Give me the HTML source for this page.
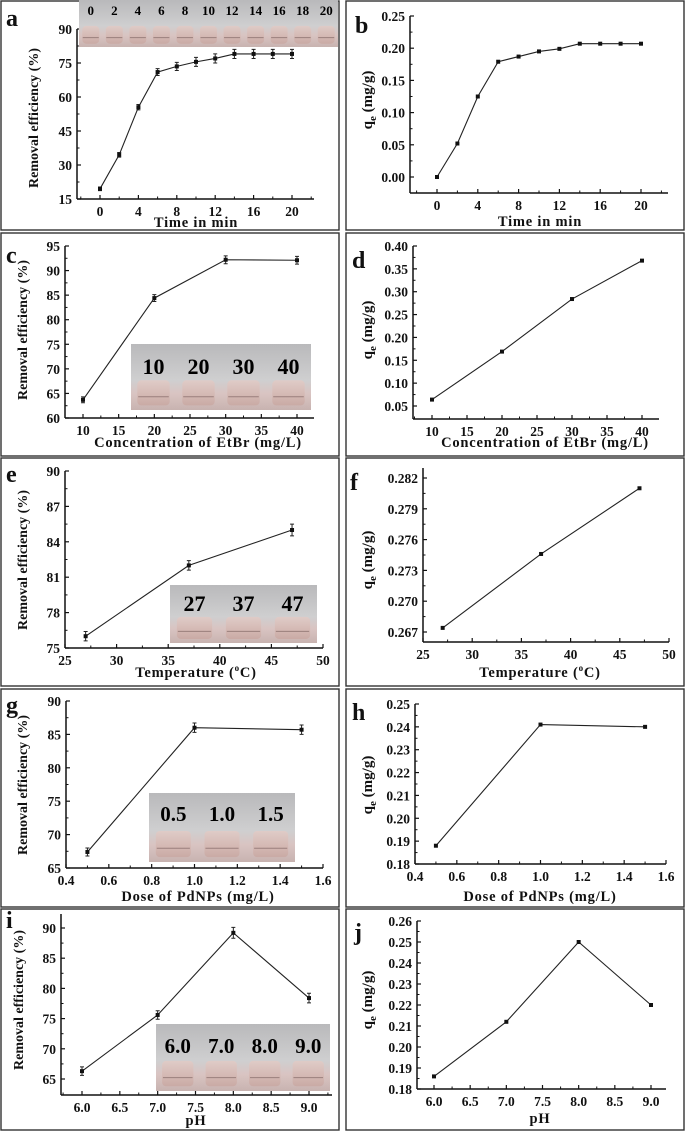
<!DOCTYPE html>
<html><head><meta charset="utf-8">
<style>
html,body{margin:0;padding:0;background:#fff;}
body{width:685px;height:1132px;overflow:hidden;}
svg text{font-family:"Liberation Serif",serif;font-weight:bold;fill:#111;}
</style></head>
<body>
<svg id="fig" width="685" height="1132" viewBox="0 0 685 1132" xmlns="http://www.w3.org/2000/svg">
<defs>
<linearGradient id="photo" x1="0" y1="0" x2="0" y2="1">
<stop offset="0" stop-color="#b9b9bb"/><stop offset="0.55" stop-color="#cfcfd0"/><stop offset="0.75" stop-color="#d9c4c2"/><stop offset="1" stop-color="#c8b3b0"/>
</linearGradient>
<linearGradient id="liq" x1="0" y1="0" x2="0" y2="1">
<stop offset="0" stop-color="#e2cbc6"/><stop offset="1" stop-color="#c9a8a2"/>
</linearGradient>
</defs>
<g id="panels"></g>
</svg>
<script>
// ---- data ----
const timeX = [0,2,4,6,8,10,12,14,16,18,20];
const remA = [19.5,34.5,55.5,71,73.5,75.5,77,79,79,79,79];
const errA = [0.8,1,1.2,1.5,1.8,2,2,2,2,2,2];
const qeB = [0,0.052,0.125,0.179,0.187,0.195,0.199,0.207,0.207,0.207,0.207];
const concX = [10,20,30,40];
const remC = [63.7,84.4,92.2,92.1];
const errC = [0.6,0.7,0.8,0.8];
const qeD = [0.064,0.169,0.284,0.368];
const tempX = [27,37,47];
const remE = [76,82,85];
const errE = [0.4,0.4,0.5];
const qeF = [0.2674,0.2746,0.2810];
const doseX = [0.5,1.0,1.5];
const remG = [67.4,86,85.7];
const errG = [0.6,0.7,0.7];
const qeH = [0.188,0.241,0.240];
const phX = [6,7,8,9];
const remI = [66.3,75.6,89.2,78.4];
const errI = [0.7,0.7,0.9,0.8];
const qeJ = [0.186,0.212,0.250,0.220];
const ticksA = [0,4,8,12,16,20], ticksAy=[15,30,45,60,75,90];
const ticksBy = [0,0.05,0.1,0.15,0.2,0.25];
const ticksC = [10,15,20,25,30,35,40], ticksCy=[60,65,70,75,80,85,90,95];
const ticksDy = [0.05,0.1,0.15,0.2,0.25,0.3,0.35,0.4];
const ticksE = [25,30,35,40,45,50], ticksEy=[75,78,81,84,87,90];
const ticksFy = [0.267,0.270,0.273,0.276,0.279,0.282];
const ticksG = [0.4,0.6,0.8,1.0,1.2,1.4,1.6], ticksGy=[65,70,75,80,85,90];
const ticksHy = [0.18,0.19,0.20,0.21,0.22,0.23,0.24,0.25];
const ticksI = [6,6.5,7,7.5,8,8.5,9], ticksIy=[65,70,75,80,85,90];
const ticksJy = [0.18,0.19,0.20,0.21,0.22,0.23,0.24,0.25,0.26];

const NS="http://www.w3.org/2000/svg";
const root=document.getElementById('panels');
function mk(tag,attrs,parent){const e=document.createElementNS(NS,tag);for(const k in attrs)e.setAttribute(k,attrs[k]);(parent||root).appendChild(e);return e;}

const frames=[[1,1,338,229],[346,1,338,229],[1,233,338,223],[346,233,338,223],[1,458,338,228],[346,458,338,228],[1,689,338,218],[346,689,338,218],[1,909,338,221],[346,909,338,221]];
const frameNames=['a','b','c','d','e','f','g','h','i','j'];
frames.forEach((f,i)=>{
 const r=mk('rect',{x:f[0],y:f[1],width:f[2],height:f[3],fill:'none',stroke:'#333','stroke-width':1.4});
 
 
});

function photo(id,x,y,w,h,labels,fs,labelY){
 const g=mk('g',{});
 
 
 mk('rect',{x:x,y:y,width:w,height:h,fill:'url(#photo)'},g);
 const n=labels.length, cw=w/n;
 labels.forEach((l,k)=>{
  const cx=x+cw*(k+0.5);
  mk('rect',{x:cx-cw*0.36,y:y+h*0.55,width:cw*0.72,height:h*0.38,rx:4,fill:'url(#liq)',opacity:0.85},g);
  mk('line',{x1:cx-cw*0.34,x2:cx+cw*0.34,y1:y+h*0.8,y2:y+h*0.8,stroke:'#9a7f7c','stroke-width':1},g);
  const t=mk('text',{x:cx,y:labelY,'text-anchor':'middle','font-size':fs,style:'fill:#000'},g);
  t.textContent=l;
  
  
 });
}

function fmt(v,d){return v.toFixed(d);}
function panel(p){
 const g=mk('g',{});
 
 
 const sx=v=>p.px0+(v-p.vx0)/(p.vx1-p.vx0)*(p.px1-p.px0);
 const sy=v=>p.py0+(v-p.vy0)/(p.vy1-p.vy0)*(p.py1-p.py0);
 if(p.photo) photo(...p.photo);
 const ax=mk('line',{x1:p.ax0,x2:p.ax1,y1:p.ay,y2:p.ay,stroke:'#111','stroke-width':1.5},g);
 
 
 const ay=mk('line',{x1:p.ax0,x2:p.ax0,y1:p.ay,y2:p.atop,stroke:'#111','stroke-width':1.5},g);
 
 
 const xt=p.xt, step=xt[1]-xt[0];
 for(let k=0;k<xt.length;k++){
  const X=sx(xt[k]);
  mk('line',{x1:X,x2:X,y1:p.ay,y2:p.ay-4,stroke:'#111','stroke-width':1.2},g);
  const t=mk('text',{x:X,y:p.ay+17,'text-anchor':'middle','font-size':13.5},g);
  t.textContent=fmt(xt[k],p.xd);
  
  
 }
 for(let v=xt[0]-step/2;v<=xt[xt.length-1]+step/2+1e-9;v+=step){
  const X=sx(v); if(X<p.ax0+1||X>p.ax1) continue;
  mk('line',{x1:X,x2:X,y1:p.ay,y2:p.ay-2.5,stroke:'#111','stroke-width':1},g);
 }
 const yt=p.yt, ys=yt[1]-yt[0];
 for(let k=0;k<yt.length;k++){
  const Y=sy(yt[k]);
  mk('line',{x1:p.ax0,x2:p.ax0+4,y1:Y,y2:Y,stroke:'#111','stroke-width':1.2},g);
  const t=mk('text',{x:p.ax0-5,y:Y+5,'text-anchor':'end','font-size':13.5},g);
  t.textContent=fmt(yt[k],p.yd);
  
  
 }
 for(let v=yt[0]+ys/2;v<yt[yt.length-1];v+=ys){
  const Y=sy(v);
  mk('line',{x1:p.ax0,x2:p.ax0+2.5,y1:Y,y2:Y,stroke:'#111','stroke-width':1},g);
 }
 const pts=p.x.map((v,k)=>sx(v)+','+sy(p.y[k])).join(' ');
 const pl=mk('polyline',{points:pts,fill:'none',stroke:'#222','stroke-width':1.1},g);
 
 
 p.x.forEach((v,k)=>{
  const X=sx(v),Y=sy(p.y[k]);
  if(p.err){
   const y1=sy(p.y[k]+p.err[k]),y2=sy(p.y[k]-p.err[k]);
   const eb=mk('path',{d:`M${X},${y1}V${y2}M${X-2},${y1}H${X+2}M${X-2},${y2}H${X+2}`,stroke:'#222','stroke-width':1,fill:'none'},g);
   
   
  }
  const m=mk('rect',{x:X-2,y:Y-2,width:4,height:4,fill:'#111'},g);
  
  
 });
 const lt=mk('text',{x:p.lx,y:p.ly,'font-size':24},g);
 lt.textContent=p.id;
 
 
 const xt2=mk('text',{x:p.xtx,y:p.xty,'text-anchor':'middle','font-size':14.5,'letter-spacing':0.8},g);
 xt2.innerHTML=p.xtitle;
 
 
 const yt2=mk('text',{x:0,y:0,'text-anchor':'middle','font-size':p.qe?15:14,transform:`translate(${p.ytx},${p.yty}) rotate(-90)`},g);
 yt2.innerHTML=p.qe?'q<tspan font-size="11" dy="4">e</tspan><tspan dy="-4"> (mg/g)</tspan>':'Removal efficiency (%)';
 
 
}
const tempT='Temperature (<tspan font-size="9" dy="-6">o</tspan><tspan dy="6">C)</tspan>';
panel({id:'a',x:timeX,y:remA,err:errA,xt:ticksA,yt:ticksAy,xd:0,yd:0,vx0:0,vx1:20,px0:100,px1:292,vy0:15,vy1:90,py0:199,py1:29,ax0:77,ax1:314,ay:199,atop:29,
 photo:['a',79,0,259,47,timeX.map(String),13,15],lx:6,ly:26,xtitle:'Time in min',xtx:196,xty:227,ytx:38,yty:118});
panel({id:'b',qe:1,x:timeX,y:qeB,xt:ticksA,yt:ticksBy,xd:0,yd:2,vx0:0,vx1:20,px0:437,px1:641,vy0:0,vy1:0.25,py0:177,py1:16,ax0:410,ax1:668,ay:193,atop:16,
 lx:355,ly:33,xtitle:'Time in min',xtx:540,xty:226,ytx:372,yty:100});
panel({id:'c',x:concX,y:remC,err:errC,xt:ticksC,yt:ticksCy,xd:0,yd:0,vx0:10,vx1:40,px0:83,px1:297,vy0:60,vy1:95,py0:418,py1:246,ax0:65,ax1:314,ay:418,atop:246,
 photo:['c',131,344,180,66,concX.map(String),22,374],lx:6,ly:263,xtitle:'Concentration of EtBr (mg/L)',xtx:198,xty:447,ytx:27,yty:330});
panel({id:'d',qe:1,x:concX,y:qeD,xt:ticksC,yt:ticksDy,xd:0,yd:2,vx0:10,vx1:40,px0:432,px1:642,vy0:0.05,vy1:0.4,py0:406,py1:246,ax0:413,ax1:659,ay:419,atop:246,
 lx:352,ly:268,xtitle:'Concentration of EtBr (mg/L)',xtx:545,xty:447,ytx:372,yty:330});
panel({id:'e',x:tempX,y:remE,err:errE,xt:ticksE,yt:ticksEy,xd:0,yd:0,vx0:25,vx1:50,px0:65,px1:323,vy0:75,vy1:90,py0:648,py1:471,ax0:65,ax1:323,ay:648,atop:471,
 photo:['e',170,585,147,58,tempX.map(String),22,611],lx:6,ly:482,xtitle:tempT,xtx:196,xty:677,ytx:27,yty:560});
panel({id:'f',qe:1,x:tempX,y:qeF,xt:ticksE,yt:ticksFy,xd:0,yd:3,vx0:25,vx1:50,px0:423,px1:669,vy0:0.267,vy1:0.282,py0:632,py1:478,ax0:423,ax1:669,ay:642,atop:468,
 lx:350,ly:490,xtitle:tempT,xtx:540,xty:677,ytx:372,yty:560});
panel({id:'g',x:doseX,y:remG,err:errG,xt:ticksG,yt:ticksGy,xd:1,yd:0,vx0:0.4,vx1:1.6,px0:66,px1:323,vy0:65,vy1:90,py0:868,py1:701,ax0:66,ax1:323,ay:868,atop:701,
 photo:['g',149,793,146,69,['0.5','1.0','1.5'],21,821],lx:6,ly:713,xtitle:'Dose of PdNPs (mg/L)',xtx:198,xty:901,ytx:27,yty:785});
panel({id:'h',qe:1,x:doseX,y:qeH,xt:ticksG,yt:ticksHy,xd:1,yd:2,vx0:0.4,vx1:1.6,px0:415,px1:666,vy0:0.18,vy1:0.25,py0:864,py1:704,ax0:415,ax1:666,ay:864,atop:704,
 lx:352,ly:720,xtitle:'Dose of PdNPs (mg/L)',xtx:540,xty:901,ytx:372,yty:785});
panel({id:'i',x:phX,y:remI,err:errI,xt:ticksI,yt:ticksIy,xd:1,yd:0,vx0:6,vx1:9,px0:82,px1:309,vy0:65,vy1:90,py0:1079,py1:928,ax0:61,ax1:332,ay:1095,atop:914,
 photo:['i',156,1024,174,67,['6.0','7.0','8.0','9.0'],21,1053],lx:6,ly:928,xtitle:'pH',xtx:196,xty:1125,ytx:23,yty:1000});
panel({id:'j',qe:1,x:phX,y:qeJ,xt:ticksI,yt:ticksJy,xd:1,yd:2,vx0:6,vx1:9,px0:434,px1:651,vy0:0.18,vy1:0.26,py0:1089,py1:921,ax0:417,ax1:666,ay:1089,atop:921,
 lx:354,ly:940,xtitle:'pH',xtx:540,xty:1123,ytx:372,yty:1000});
</script>
</body></html>
